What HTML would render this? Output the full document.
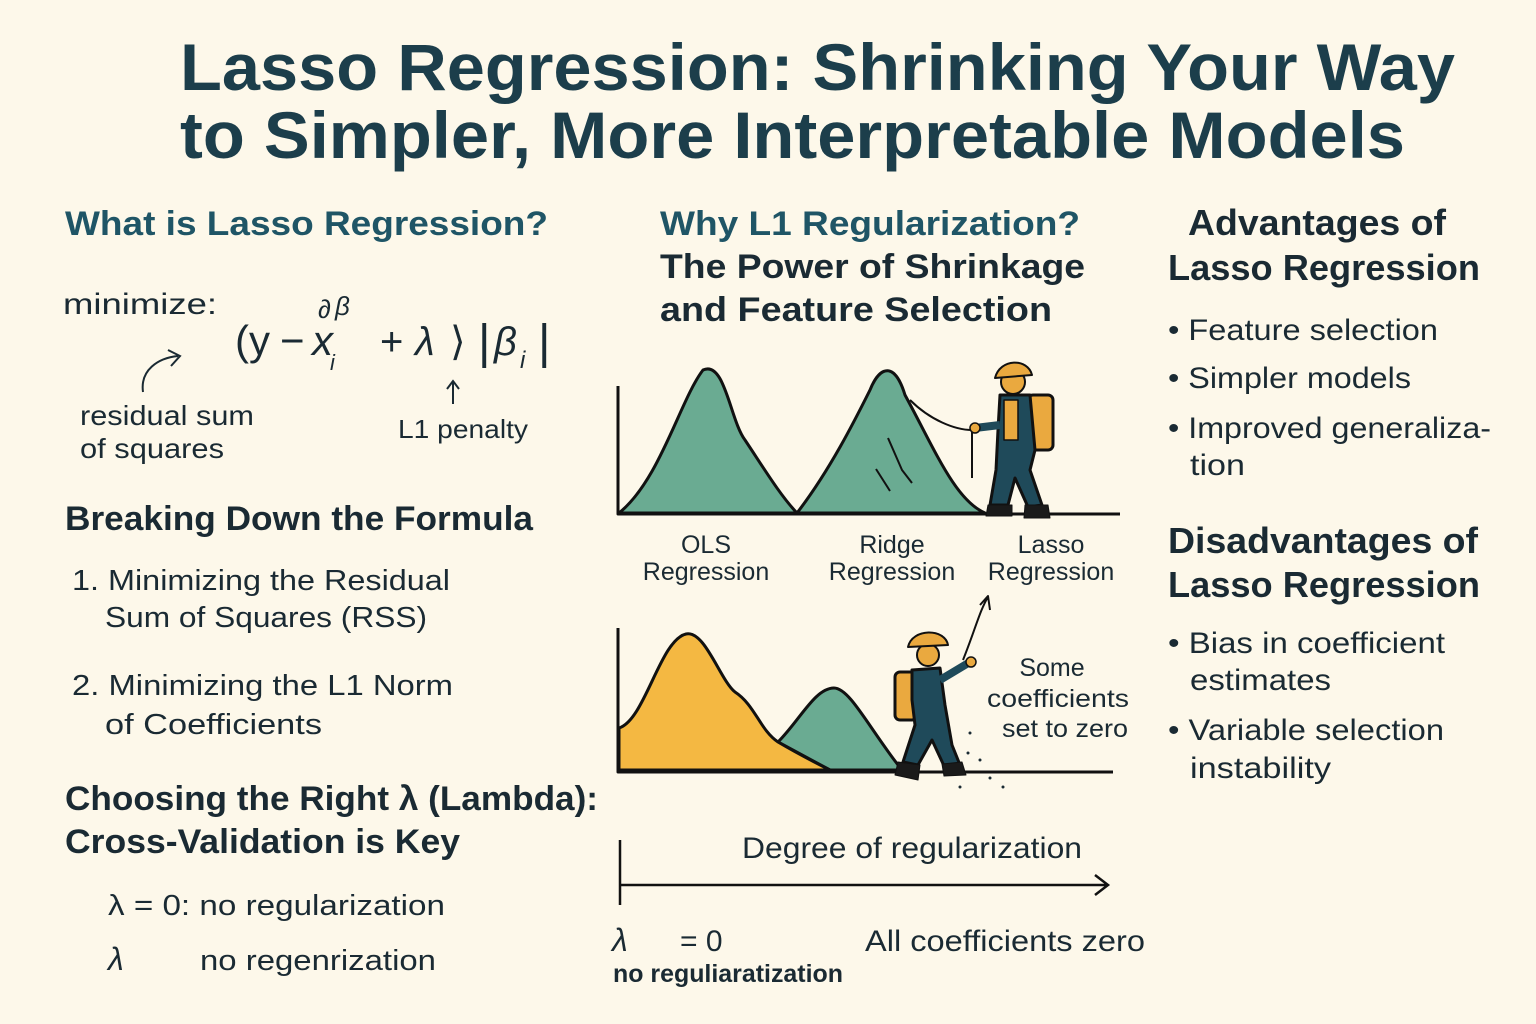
<!DOCTYPE html>
<html><head><meta charset="utf-8"><style>
html,body{margin:0;padding:0;background:#fdf8ea;}
svg{display:block}
text{font-family:"Liberation Sans","DejaVu Sans",sans-serif;}
</style></head><body>
<svg width="1536" height="1024" viewBox="0 0 1536 1024">
<rect width="1536" height="1024" fill="#fdf8ea"/>
<g fill="#1c3e4b" font-weight="bold" font-size="66">
<text x="180" y="90" textLength="1275" lengthAdjust="spacingAndGlyphs">Lasso Regression: Shrinking Your Way</text>
<text x="180" y="158" textLength="1225" lengthAdjust="spacingAndGlyphs">to Simpler, More Interpretable Models</text>
</g>
<!-- Left column -->
<g>
<text x="65" y="235" font-size="34" font-weight="bold" fill="#1f5566" textLength="483" lengthAdjust="spacingAndGlyphs">What is Lasso Regression?</text>
<text x="63" y="314" font-size="30" fill="#1a2a33" textLength="154" lengthAdjust="spacingAndGlyphs">minimize:</text>
<g fill="#1a2a33" font-family="Liberation Serif, serif">
<text x="235" y="355" font-size="42" font-family="Liberation Sans, sans-serif">(y</text>
<text x="280" y="355" font-size="42">−</text>
<text x="312" y="355" font-size="42" font-style="italic">x</text>
<text x="318" y="318" font-size="26" font-style="italic">∂</text>
<text x="335" y="315" font-size="26" font-style="italic">β</text>
<text x="330" y="370" font-size="22" font-style="italic">i</text>
<text x="380" y="355" font-size="40">+</text>
<text x="415" y="355" font-size="40" font-style="italic">λ</text>
<text x="450" y="355" font-size="40">⟩</text>
<text x="478" y="358" font-size="48">|</text>
<text x="494" y="355" font-size="40" font-style="italic">β</text>
<text x="520" y="368" font-size="24" font-style="italic">i</text>
<text x="538" y="358" font-size="48">|</text>
</g>
<path d="M143 392 C140 370 158 358 178 356 M168 350 L180 356 L171 366" fill="none" stroke="#1a2a33" stroke-width="2"/>
<text x="80" y="425" font-size="28" fill="#1a2a33" textLength="174" lengthAdjust="spacingAndGlyphs">residual sum</text>
<text x="80" y="458" font-size="28" fill="#1a2a33" textLength="144" lengthAdjust="spacingAndGlyphs">of squares</text>
<path d="M453 404 L453 382 M447 389 L453 381 L459 389" fill="none" stroke="#1a2a33" stroke-width="2"/>
<text x="398" y="438" font-size="26" fill="#1a2a33" textLength="130" lengthAdjust="spacingAndGlyphs">L1 penalty</text>
<text x="65" y="530" font-size="34" font-weight="bold" fill="#1a2a33" textLength="468" lengthAdjust="spacingAndGlyphs">Breaking Down the Formula</text>
<g font-size="29" fill="#1a2a33">
<text x="72" y="590" textLength="378" lengthAdjust="spacingAndGlyphs">1. Minimizing the Residual</text>
<text x="105" y="627" textLength="322" lengthAdjust="spacingAndGlyphs">Sum of Squares (RSS)</text>
<text x="72" y="695" textLength="381" lengthAdjust="spacingAndGlyphs">2. Minimizing the L1 Norm</text>
<text x="105" y="734" textLength="217" lengthAdjust="spacingAndGlyphs">of Coefficients</text>
</g>
<text x="65" y="810" font-size="34" font-weight="bold" fill="#1a2a33" textLength="533" lengthAdjust="spacingAndGlyphs">Choosing the Right λ (Lambda):</text>
<text x="65" y="853" font-size="34" font-weight="bold" fill="#1a2a33" textLength="395" lengthAdjust="spacingAndGlyphs">Cross-Validation is Key</text>
<g font-size="29" fill="#1a2a33">
<text x="108" y="915" textLength="337" lengthAdjust="spacingAndGlyphs">λ = 0: no regularization</text>
<text x="108" y="970" font-family="Liberation Serif, serif" font-style="italic" font-size="32">λ</text>
<text x="200" y="970" textLength="236" lengthAdjust="spacingAndGlyphs">no regenrization</text>
</g>
</g>
<!-- Middle column -->
<g>
<text x="660" y="235" font-size="34" font-weight="bold" fill="#1f5566" textLength="420" lengthAdjust="spacingAndGlyphs">Why L1 Regularization?</text>
<text x="660" y="278" font-size="34" font-weight="bold" fill="#1a2a33" textLength="425" lengthAdjust="spacingAndGlyphs">The Power of Shrinkage</text>
<text x="660" y="321" font-size="34" font-weight="bold" fill="#1a2a33" textLength="392" lengthAdjust="spacingAndGlyphs">and Feature Selection</text>
<!-- top chart -->
<g stroke="#111" stroke-width="3" stroke-linejoin="round">
<path d="M619 513 C660 480 680 400 703 370 C725 360 730 420 745 440 C765 470 780 495 797 513 Z" fill="#6aab92"/>
<path d="M797 513 C830 470 855 420 870 390 C880 365 895 362 905 395 C935 450 955 500 985 513 Z" fill="#6aab92"/>
<path d="M888 438 L902 470 L912 483 M876 469 L890 491" fill="none" stroke-width="2"/>
<path d="M618 386 L618 514 L1120 514" fill="none"/>
<path d="M910 400 C930 420 955 430 972 430" fill="none" stroke-width="2"/>
<line x1="972" y1="430" x2="972" y2="478" stroke-width="2"/>
<g>
<rect x="1028" y="395" width="25" height="55" rx="5" fill="#eaa93f"/>
<path d="M1000 395 L1030 395 L1035 450 L1030 470 L1042 505 L1028 507 L1015 478 L1008 505 L990 505 L996 470 L998 430 Z" fill="#1f4a5a"/>
<rect x="1004" y="400" width="14" height="40" fill="#eaa93f" stroke-width="1.5"/>
<path d="M1000 425 L975 428" stroke="#1f4a5a" stroke-width="8"/>
<circle cx="975" cy="428" r="5" fill="#eaa93f" stroke-width="1.5"/>
<circle cx="1013" cy="382" r="12" fill="#eaa93f" stroke-width="2"/>
<path d="M995 378 C1000 358 1028 358 1032 375 Z" fill="#eaa93f" stroke-width="2"/>
<path d="M988 505 L1012 505 L1012 516 L986 516 Z M1025 505 L1048 505 L1050 518 L1024 518 Z" fill="#1a1a1a" stroke-width="1"/>
</g>
</g>
<g font-size="25" fill="#1a2a33" text-anchor="middle">
<text x="706" y="553">OLS</text><text x="706" y="580">Regression</text>
<text x="892" y="553">Ridge</text><text x="892" y="580">Regression</text>
<text x="1051" y="553">Lasso</text><text x="1051" y="580">Regression</text>
</g>
<!-- bottom chart -->
<g stroke="#111" stroke-width="3" stroke-linejoin="round">
<path d="M778 742 C800 720 815 688 834 688 C850 688 870 730 902 770 L830 770 Z" fill="#6aab92"/>
<path d="M619 728 C645 720 660 640 686 634 C705 630 720 680 735 692 C755 705 760 730 778 742 C800 755 820 765 830 770 L619 770 Z" fill="#f4b842"/>
<path d="M618 628 L618 772 L1113 772" fill="none"/>
<path d="M963 660 C975 630 980 610 988 597 M980 605 L988 596 L990 610" fill="none" stroke-width="2"/>
<g>
<rect x="895" y="672" width="22" height="48" rx="5" fill="#eaa93f"/>
<path d="M912 670 L940 668 L945 705 L952 745 L960 765 L945 768 L932 740 L918 765 L903 762 L915 725 L912 700 Z" fill="#1f4a5a"/>
<path d="M940 680 L970 662" stroke="#1f4a5a" stroke-width="8"/>
<circle cx="971" cy="662" r="5" fill="#eaa93f" stroke-width="1.5"/>
<circle cx="928" cy="655" r="11" fill="#eaa93f" stroke-width="2"/>
<path d="M908 647 C912 628 945 628 948 645 Z" fill="#eaa93f" stroke-width="2"/>
<path d="M898 762 L920 765 L918 780 L895 775 Z M942 764 L962 762 L966 775 L944 776 Z" fill="#1a1a1a" stroke-width="1"/>
</g>
</g>
<g fill="#1a2a33">
<circle cx="970" cy="733" r="1.5"/><circle cx="968" cy="753" r="1.5"/><circle cx="960" cy="787" r="1.5"/><circle cx="990" cy="778" r="1.5"/><circle cx="1003" cy="787" r="1.5"/><circle cx="980" cy="760" r="1.5"/>
</g>
<g font-size="25" fill="#1a2a33" text-anchor="middle">
<text x="1052" y="676">Some</text><text x="1058" y="707" textLength="142" lengthAdjust="spacingAndGlyphs">coefficients</text><text x="1065" y="737" textLength="126" lengthAdjust="spacingAndGlyphs">set to zero</text>
</g>
<text x="742" y="858" font-size="30" fill="#1a2a33" textLength="340" lengthAdjust="spacingAndGlyphs">Degree of regularization</text>
<path d="M620 840 L620 905 M620 885 L1108 885 M1095 875 L1108 885 L1095 895" fill="none" stroke="#111" stroke-width="2.5"/>
<text x="612" y="951" font-size="32" fill="#1a2a33" font-family="Liberation Serif, serif" font-style="italic">λ</text>
<text x="680" y="951" font-size="30" fill="#1a2a33">= 0</text>
<text x="865" y="951" font-size="30" fill="#1a2a33" textLength="280" lengthAdjust="spacingAndGlyphs">All coefficients zero</text>
<text x="613" y="982" font-size="25" font-weight="bold" fill="#1a2a33" textLength="230" lengthAdjust="spacingAndGlyphs">no reguliaratization</text>
</g>
<!-- Right column -->
<g fill="#1a2a33">
<text x="1188" y="235" font-size="36" font-weight="bold" textLength="258" lengthAdjust="spacingAndGlyphs">Advantages of</text>
<text x="1168" y="280" font-size="36" font-weight="bold" textLength="312" lengthAdjust="spacingAndGlyphs">Lasso Regression</text>
<g font-size="30">
<text x="1168" y="340" textLength="270" lengthAdjust="spacingAndGlyphs">• Feature selection</text>
<text x="1168" y="388" textLength="243" lengthAdjust="spacingAndGlyphs">• Simpler models</text>
<text x="1168" y="438" textLength="323" lengthAdjust="spacingAndGlyphs">• Improved generaliza-</text>
<text x="1190" y="475" textLength="55" lengthAdjust="spacingAndGlyphs">tion</text>
</g>
<text x="1168" y="553" font-size="36" font-weight="bold" textLength="310" lengthAdjust="spacingAndGlyphs">Disadvantages of</text>
<text x="1168" y="597" font-size="36" font-weight="bold" textLength="312" lengthAdjust="spacingAndGlyphs">Lasso Regression</text>
<g font-size="30">
<text x="1168" y="653" textLength="277" lengthAdjust="spacingAndGlyphs">• Bias in coefficient</text>
<text x="1190" y="690" textLength="141" lengthAdjust="spacingAndGlyphs">estimates</text>
<text x="1168" y="740" textLength="276" lengthAdjust="spacingAndGlyphs">• Variable selection</text>
<text x="1190" y="778" textLength="141" lengthAdjust="spacingAndGlyphs">instability</text>
</g>
</g>
</svg>
</body></html>
